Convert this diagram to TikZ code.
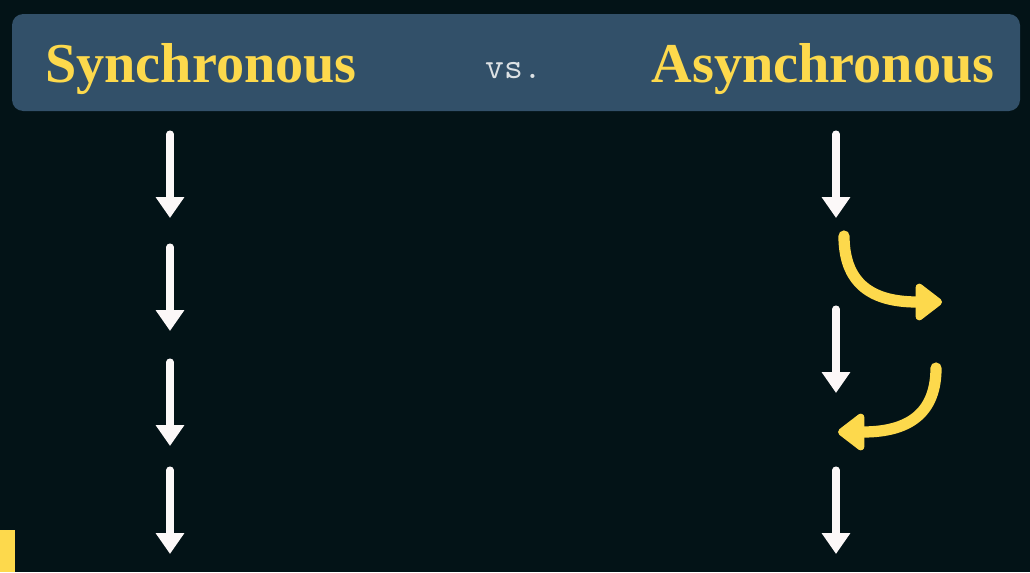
\documentclass[tikz,border=0pt]{standalone}
\usepackage{fontspec}
\setmainfont{Liberation Serif}
\usetikzlibrary{arrows.meta}

\definecolor{bgdark}{HTML}{031317}
\definecolor{barblue}{HTML}{325069}
\definecolor{sunyellow}{HTML}{FDD94C}
\definecolor{chalk}{HTML}{FCF8F8}
\definecolor{vsgrey}{HTML}{DCE1E4}

\begin{document}
\begin{tikzpicture}[x=0.025cm,y=-0.025cm,
    flowarrow/.style={draw=chalk,line width=5pt,line cap=round,-{Triangle[width=0.68cm,length=0.52cm]}},
    jumparrow/.style={draw=sunyellow,line width=8pt,line cap=round,-{Triangle[width=1.05cm,length=0.72cm,round]}},
    title/.style={text=sunyellow,font=\bfseries\fontsize{40}{44}\selectfont,anchor=base}]
        % background and header bar
        \fill[bgdark] (0,0) rectangle (1030,572);
        \fill[barblue,rounded corners=8pt] (12,14) rectangle (1020,111);
        \fill[sunyellow] (0,530) rectangle (15,572);

        \node[title] (sync) at (201,82) {Synchronous};
        \node[title] (async) at (823,82) {Asynchronous};
        \node[anchor=base,text=vsgrey,font=\ttfamily\fontsize{26}{28}\selectfont] (vs) at (514,78) {vs.};

        % synchronous steps
        \foreach \i/\top in {1/134,2/247,3/362,4/470} {
            \coordinate (s\i a) at (170,\top);
            \coordinate (s\i b) at (170,\top+84);
            \draw[flowarrow] (s\i a) -- (s\i b);
        }

        % asynchronous steps
        \foreach \i/\top in {1/134,2/309,3/470} {
            \coordinate (a\i a) at (836,\top);
            \coordinate (a\i b) at (836,\top+84);
            \draw[flowarrow] (a\i a) -- (a\i b);
        }

        % jumps out and back
        \coordinate (j1a) at (844,236);
        \coordinate (j1b) at (942,302);
        \draw[jumparrow] (j1a) .. controls (844,290) and (880,302) .. (j1b);
        \coordinate (j2a) at (936,368);
        \coordinate (j2b) at (838,432);
        \draw[jumparrow] (j2a) .. controls (936,420) and (900,432) .. (j2b);
    \end{tikzpicture}
\end{document}
